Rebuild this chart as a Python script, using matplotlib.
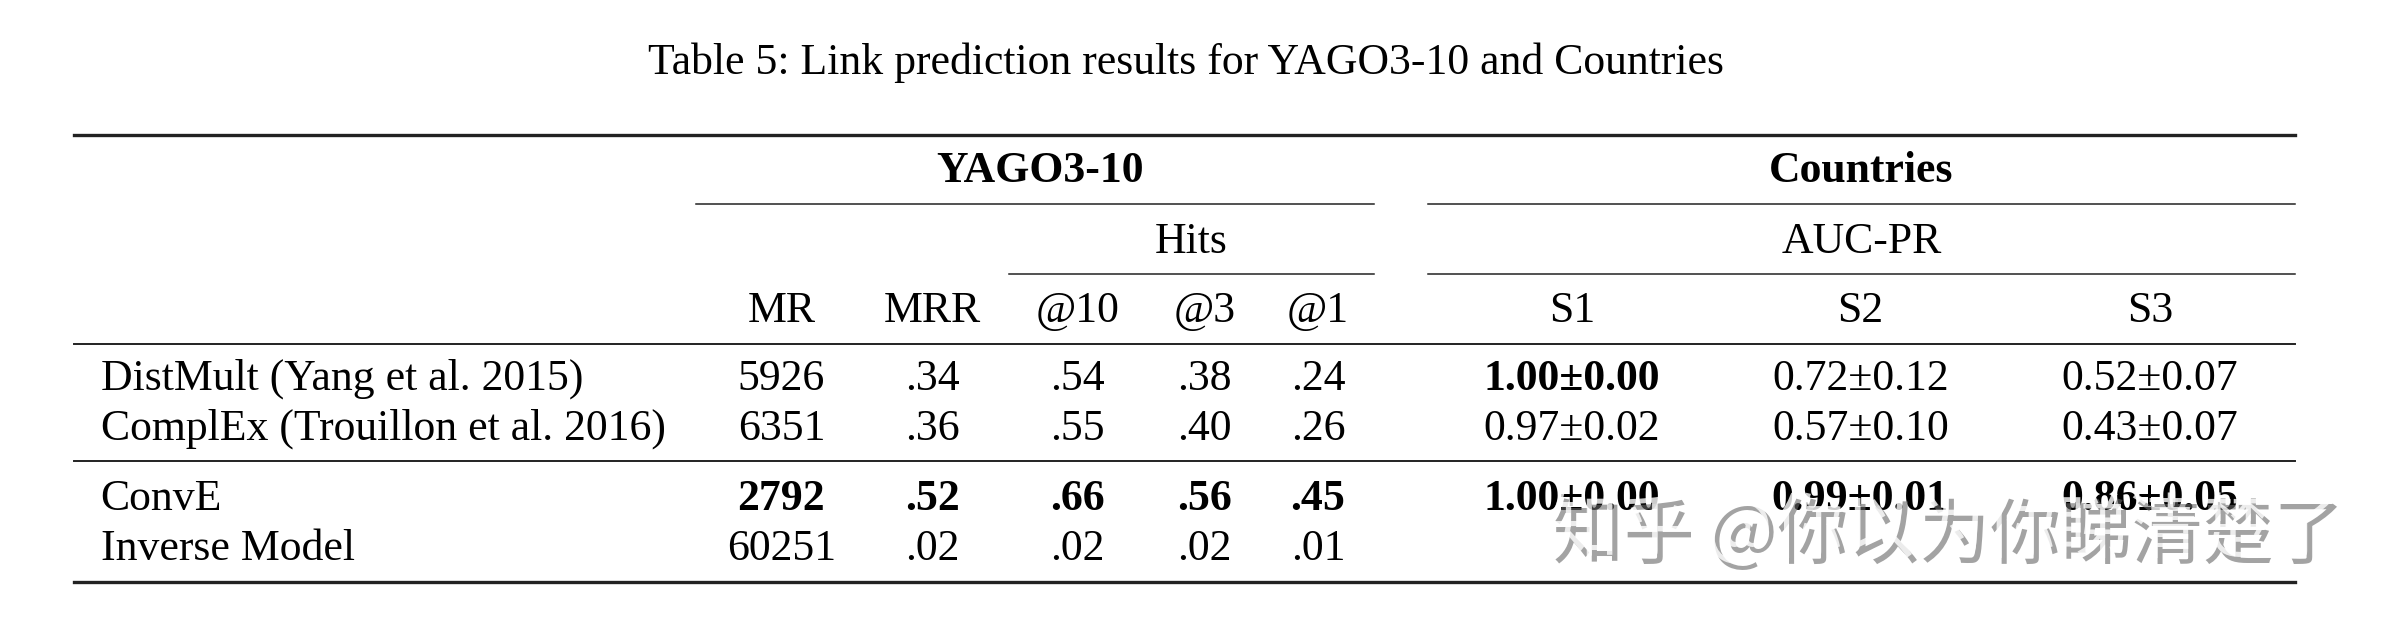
import matplotlib.pyplot as plt

plt.rcParams['font.family'] = ['Liberation Serif', 'Noto Sans CJK SC']

models = ['DistMult (Yang et al. 2015)', 'ComplEx (Trouillon et al. 2016)', 'ConvE', 'Inverse Model']
mr = ['5926', '6351', '2792', '60251']
mrr = ['.34', '.36', '.52', '.02']
hits10 = ['.54', '.55', '.66', '.02']
hits3 = ['.38', '.40', '.56', '.02']
hits1 = ['.24', '.26', '.45', '.01']
s1 = ['1.00±0.00', '0.97±0.02', '1.00±0.00', '']
s2 = ['0.72±0.12', '0.57±0.10', '0.99±0.01', '']
s3 = ['0.52±0.07', '0.43±0.07', '0.86±0.05', '']
bold = [[False, False, False, False, False, True, False, False],
        [False] * 8,
        [True] * 8,
        [False] * 8]

fig = plt.figure(figsize=(23.99, 6.19), dpi=100)
ax = fig.add_axes([0, 0, 1, 1])
ax.set_xlim(0, 2399)
ax.set_ylim(619, 0)
ax.axis('off')


def X(x):
    return 74 + (x - 74) * 0.988


def Y(y):
    return y * 0.99


fs = 31.5
dy = 4  # text baseline nudge
ax.text(X(1200), Y(59) + dy, 'Table 5: Link prediction results for YAGO3-10 and Countries',
        ha='center', va='center', fontsize=fs)

# rules
ax.plot([X(74), X(2322)], [Y(136)] * 2, color='#222', lw=2.4)
ax.plot([X(74), X(2322)], [Y(347)] * 2, color='#222', lw=1.4)
ax.plot([X(74), X(2322)], [Y(466)] * 2, color='#222', lw=1.4)
ax.plot([X(74), X(2322)], [Y(588)] * 2, color='#222', lw=2.4)
ax.plot([X(704), X(1390)], [Y(206)] * 2, color='#222', lw=1.1)
ax.plot([X(1444), X(2322)], [Y(206)] * 2, color='#222', lw=1.1)
ax.plot([X(1020), X(1390)], [Y(277)] * 2, color='#222', lw=1.1)
ax.plot([X(1444), X(2322)], [Y(277)] * 2, color='#222', lw=1.1)

ax.text(X(1052), Y(169) + dy, 'YAGO3-10', ha='center', va='center', fontsize=fs, weight='bold')
ax.text(X(1883), Y(169) + dy, 'Countries', ha='center', va='center', fontsize=fs, weight='bold')
ax.text(X(1205), Y(240) + dy, 'Hits', ha='center', va='center', fontsize=fs)
ax.text(X(1883), Y(240) + dy, 'AUC-PR', ha='center', va='center', fontsize=fs)

col_x = [790, 943, 1090, 1218, 1333, 1590, 1882, 2175]
heads = ['MR', 'MRR', '@10', '@3', '@1', 'S1', 'S2', 'S3']
for x, h in zip(col_x, heads):
    ax.text(X(x), Y(310) + dy, h, ha='center', va='center', fontsize=fs)

row_y = [379, 429, 500, 550]
cols = [mr, mrr, hits10, hits3, hits1, s1, s2, s3]
for i, y in enumerate(row_y):
    ax.text(X(101), Y(y) + dy, models[i], ha='left', va='center', fontsize=fs)
    for j, (x, c) in enumerate(zip(col_x, cols)):
        ax.text(X(x), Y(y) + dy, c[i], ha='center', va='center', fontsize=fs,
                weight='bold' if bold[i][j] else 'normal')

# watermark
wm = '知乎 @你以为你睇清楚了'
ax.text(1553, 537, wm, ha='left', va='center', fontsize=51, color='#666',
        family=['Noto Sans CJK SC'], alpha=0.6)
ax.text(1548, 532, wm, ha='left', va='center', fontsize=51, color='white',
        family=['Noto Sans CJK SC'], alpha=0.8)

fig.savefig('out.png', dpi=100)
